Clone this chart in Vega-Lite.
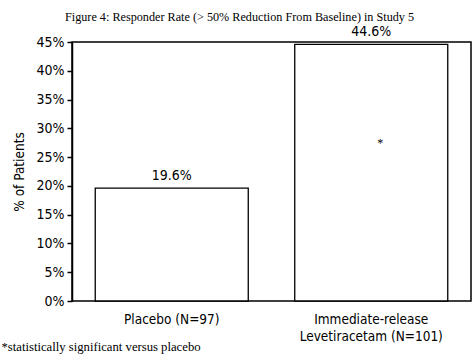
{
  "$schema": "https://vega.github.io/schema/vega-lite/v6.json",
  "width": 399,
  "height": 259,
  "autosize": {"type": "none"},
  "padding": {"left": 72, "top": 42, "right": 1, "bottom": 63},
  "background": "white",
  "title": {
    "text": "Figure 4: Responder Rate (> 50% Reduction From Baseline) in Study 5",
    "font": "Liberation Serif",
    "fontSize": 12.2,
    "fontWeight": "normal",
    "color": "black",
    "anchor": "start",
    "frame": "group",
    "dx": -7,
    "offset": 2
  },
  "config": {
    "view": {"stroke": "black", "strokeWidth": 1.5},
    "axis": {
      "labelFont": "DejaVu Sans Condensed, Liberation Sans",
      "titleFont": "DejaVu Sans Condensed, Liberation Sans",
      "labelColor": "black",
      "titleColor": "black",
      "labelFontSize": 14,
      "titleFontSize": 13.5,
      "titleFontWeight": "normal",
      "grid": false
    }
  },
  "data": {
    "values": [
      {"group": "Placebo (N=97)", "rate": 19.6, "label": "19.6%", "star": "", "starPos": null},
      {"group": "Immediate-release|Levetiracetam (N=101)", "rate": 44.6, "label": "44.6%", "star": "*", "starPos": 27.5}
    ]
  },
  "encoding": {
    "x": {
      "field": "group",
      "type": "nominal",
      "sort": null,
      "scale": {"paddingInner": 0.233, "paddingOuter": 0.1165},
      "axis": {
        "title": "*statistically significant versus placebo",
        "titleFont": "Liberation Serif",
        "titleFontSize": 12.7,
        "titleAnchor": "start",
        "titleAlign": "left",
        "titleBaseline": "middle",
        "titleX": -71,
        "titleY": 45,
        "labelAngle": 0,
        "labelFontSize": 13.5,
        "labelExpr": "split(datum.label, '|')",
        "labelBaseline": "middle",
        "labelPadding": 18,
        "labelLineHeight": 17,
        "ticks": false,
        "domain": false
      }
    },
    "y": {
      "field": "rate",
      "type": "quantitative",
      "scale": {"domain": [0, 45], "nice": false},
      "axis": {
        "title": "% of Patients",
        "values": [0, 5, 10, 15, 20, 25, 30, 35, 40, 45],
        "labelExpr": "datum.value + '%'",
        "tickColor": "black",
        "tickSize": 5,
        "tickWidth": 1.5,
        "domainColor": "black",
        "domainWidth": 1.5,
        "labelPadding": 3,
        "titlePadding": 10
      }
    }
  },
  "layer": [
    {
      "mark": {"type": "bar", "fill": "white", "stroke": "black", "strokeWidth": 1.3}
    },
    {
      "mark": {"type": "text", "baseline": "alphabetic", "dy": -8, "font": "DejaVu Sans Condensed, Liberation Sans", "fontSize": 14, "color": "black"},
      "encoding": {"text": {"field": "label"}}
    },
    {
      "transform": [{"filter": "datum.star != ''"}],
      "mark": {"type": "text", "baseline": "middle", "dx": 9, "font": "Liberation Serif", "fontSize": 12, "color": "black"},
      "encoding": {"y": {"field": "starPos", "type": "quantitative"}, "text": {"field": "star"}}
    }
  ]
}
